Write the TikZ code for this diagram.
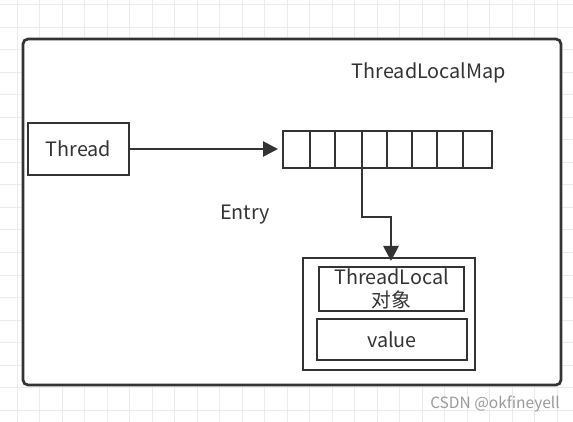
\documentclass[tikz,border=0pt]{standalone}
\usepackage{fontspec}
\setmainfont{Noto Sans CJK SC}
\usetikzlibrary{arrows.meta}
\definecolor{ink}{HTML}{333333}
\definecolor{gridc}{HTML}{EBEBEB}
\tikzset{
  box/.style={draw=ink, line width=2.7pt, fill=white},
  conn/.style={draw=ink, line width=2.7pt, -{Triangle[length=15pt,width=15pt]}},
  lbl/.style={text=ink, font=\fontsize{19.8}{22}\selectfont, inner sep=0pt},
}
\begin{document}
\begin{tikzpicture}[x=1pt,y=-1pt]
\useasboundingbox (0,0) rectangle (573,422);
% background grid
\foreach \i in {0,...,25} {
  \draw[gridc, line width=1pt] ({17+22.5*\i},0) -- ({17+22.5*\i},422);
}
\foreach \j in {0,...,18} {
  \draw[gridc, line width=1pt] (0,{5+22.5*\j}) -- (573,{5+22.5*\j});
}
% outer frame
\draw[box, rounded corners=5pt] (23,39) rectangle (561,385);
\node[lbl] (maplbl) at (429,73) {ThreadLocalMap};
% thread
\draw[box] (28,123) rectangle (129,175);
\node[lbl] (thread) at (78.5,149) {Thread};
\coordinate (threadE) at (129,149);
% array cells
\foreach \a/\b [count=\k] in {283/310,310/335,335/362,362/387,387/412,412/437,437/463,463/492} {
  \draw[box] (\a,131) rectangle (\b,168);
  \coordinate (c\k) at ({(\a+\b)/2},149);
}
\coordinate (arrW) at (283,149);
\coordinate (cellB) at (362,168);
\draw[conn, shorten >=5pt] (threadE) -- (arrW);
% entry
\node[lbl] (entry) at (245,215) {Entry};
\draw[box] (303,258) rectangle (475,370);
\coordinate (entryT) at (391,258);
\draw[box] (319,267) rectangle (464,311);
\draw[box] (317,319) rectangle (467,360);
\node[lbl] (tl) at (391.5,277) {ThreadLocal};
\node[lbl] (obj) at (391.5,300) {对象};
\node[lbl] (val) at (392,340) {value};
\draw[conn] (cellB) -- (362,217) -- (391,217) -- ([yshift=-3pt]entryT);
% watermark
\node[text=gray!80, font=\fontsize{15.5}{17}\selectfont, inner sep=0pt] (wm) at (495,404) {CSDN @okfineyell};
\end{tikzpicture}
\end{document}
